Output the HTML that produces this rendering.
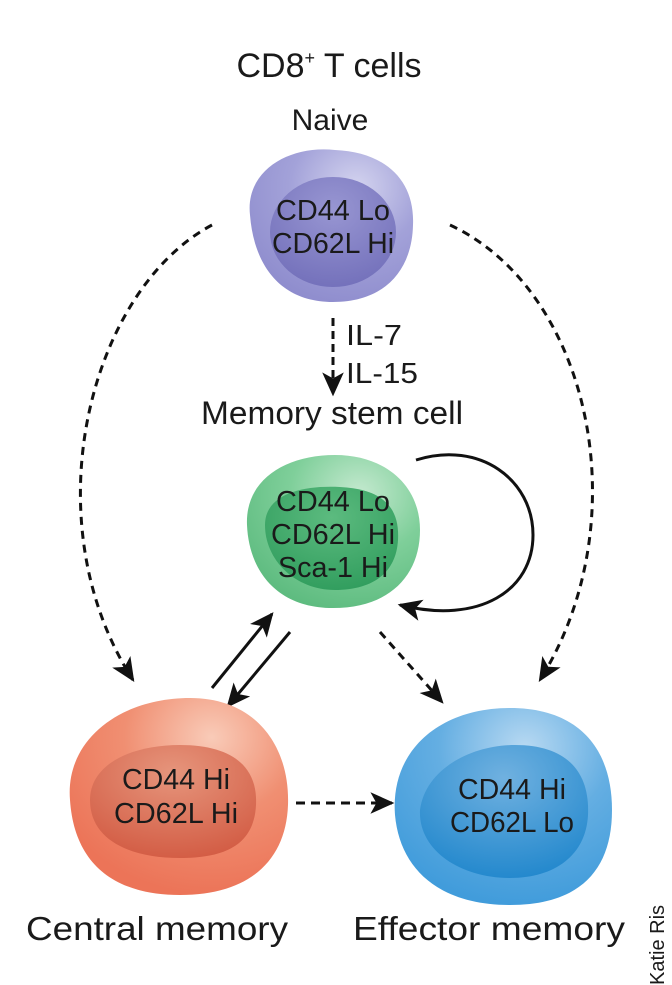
<!DOCTYPE html>
<html><head><meta charset="utf-8"><style>
html,body{margin:0;padding:0;background:#fff}
svg{display:block}
text{font-family:"Liberation Sans",sans-serif;fill:#1a1a1a}
</style></head><body>
<svg width="672" height="985" viewBox="0 0 672 985" xmlns="http://www.w3.org/2000/svg">
<defs>
<radialGradient id="nO" cx="0.65" cy="0.25" r="0.8"><stop offset="0" stop-color="#d4d4ef"/><stop offset="0.5" stop-color="#a3a2d9"/><stop offset="1" stop-color="#8e8ccd"/></radialGradient>
<radialGradient id="nI" cx="0.5" cy="0.3" r="0.8"><stop offset="0" stop-color="#9896d2"/><stop offset="1" stop-color="#6f6cb8"/></radialGradient>
<radialGradient id="gO" cx="0.65" cy="0.25" r="0.8"><stop offset="0" stop-color="#c4e9cf"/><stop offset="0.5" stop-color="#7fcf9a"/><stop offset="1" stop-color="#5dbb7f"/></radialGradient>
<radialGradient id="gI" cx="0.5" cy="0.3" r="0.8"><stop offset="0" stop-color="#5cbb7f"/><stop offset="1" stop-color="#2c9a5a"/></radialGradient>
<radialGradient id="rO" cx="0.65" cy="0.2" r="0.8"><stop offset="0" stop-color="#f9cbb8"/><stop offset="0.5" stop-color="#f08f72"/><stop offset="1" stop-color="#ec7458"/></radialGradient>
<radialGradient id="rI" cx="0.5" cy="0.25" r="0.8"><stop offset="0" stop-color="#e6957c"/><stop offset="1" stop-color="#d25a42"/></radialGradient>
<radialGradient id="bO" cx="0.6" cy="0.2" r="0.8"><stop offset="0" stop-color="#b8d9f2"/><stop offset="0.5" stop-color="#64aee2"/><stop offset="1" stop-color="#419cdb"/></radialGradient>
<radialGradient id="bI" cx="0.5" cy="0.25" r="0.8"><stop offset="0" stop-color="#70b1e0"/><stop offset="1" stop-color="#1f86cc"/></radialGradient>
<marker id="ah" viewBox="0 0 10 10" refX="9" refY="5" markerWidth="24" markerHeight="24" orient="auto" markerUnits="userSpaceOnUse"><path d="M0,0.5 L10,5 L0,9.5 L2.5,5 z" fill="#111"/></marker>
</defs>

<text x="329" y="77" font-size="34" text-anchor="middle">CD8<tspan font-size="18" dy="-13">+</tspan><tspan dy="13"> T cells</tspan></text>
<text x="330" y="130" font-size="30" text-anchor="middle">Naive</text>

<!-- Naive -->
<path d="M250,215 C245,170 290,145 335,150 C385,152 415,180 413,225 C412,270 385,302 333,302 C280,302 254,265 250,215 Z" fill="url(#nO)"/>
<ellipse cx="333" cy="232" rx="63" ry="55" fill="url(#nI)"/>
<text x="333" y="220" font-size="29" text-anchor="middle" textLength="114" lengthAdjust="spacingAndGlyphs">CD44 Lo</text>
<text x="333" y="253" font-size="29" text-anchor="middle" textLength="122" lengthAdjust="spacingAndGlyphs">CD62L Hi</text>

<!-- IL arrow -->
<line x1="333" y1="318" x2="333" y2="394" stroke="#111" stroke-width="3" stroke-dasharray="8,5" marker-end="url(#ah)"/>
<text x="346" y="345" font-size="29" textLength="56" lengthAdjust="spacingAndGlyphs">IL-7</text>
<text x="346" y="383" font-size="29" textLength="72" lengthAdjust="spacingAndGlyphs">IL-15</text>
<text x="332" y="424" font-size="32" text-anchor="middle" textLength="262" lengthAdjust="spacingAndGlyphs">Memory stem cell</text>

<!-- Green -->
<path d="M247,525 C245,480 285,455 335,455 C385,455 420,485 420,530 C420,575 390,608 333,608 C278,608 249,572 247,525 Z" fill="url(#gO)"/>
<path d="M265,525 C265,495 300,485 340,487 C380,489 400,505 398,540 C396,575 370,590 335,590 C295,590 265,560 265,525 Z" fill="url(#gI)"/>
<text x="333" y="511" font-size="29" text-anchor="middle" textLength="114" lengthAdjust="spacingAndGlyphs">CD44 Lo</text>
<text x="333" y="544" font-size="29" text-anchor="middle" textLength="124" lengthAdjust="spacingAndGlyphs">CD62L Hi</text>
<text x="333" y="577" font-size="29" text-anchor="middle" textLength="110" lengthAdjust="spacingAndGlyphs">Sca-1 Hi</text>

<!-- loop -->
<path d="M416,460 C480,440 533,480 533,535 C533,590 480,625 400,605" fill="none" stroke="#111" stroke-width="3" marker-end="url(#ah)"/>

<!-- big dashed curves -->
<path d="M212,225 C90,290 30,520 133,680" fill="none" stroke="#111" stroke-width="3" stroke-dasharray="8,6" marker-end="url(#ah)"/>
<path d="M450,225 C590,290 640,520 540,680" fill="none" stroke="#111" stroke-width="3" stroke-dasharray="8,6" marker-end="url(#ah)"/>

<!-- solid pair -->
<line x1="212" y1="688" x2="272" y2="614" stroke="#111" stroke-width="3" marker-end="url(#ah)"/>
<line x1="290" y1="632" x2="228" y2="706" stroke="#111" stroke-width="3" marker-end="url(#ah)"/>
<!-- green to blue -->
<line x1="380" y1="632" x2="442" y2="702" stroke="#111" stroke-width="3" stroke-dasharray="8,6" marker-end="url(#ah)"/>

<!-- Red -->
<path d="M70,800 C65,740 120,698 190,698 C255,698 290,745 288,805 C286,860 250,895 180,895 C110,895 74,860 70,800 Z" fill="url(#rO)"/>
<path d="M90,800 C90,765 130,745 180,745 C230,745 258,765 256,805 C254,845 225,858 180,858 C130,858 90,840 90,800 Z" fill="url(#rI)"/>
<text x="176" y="789" font-size="29" text-anchor="middle" textLength="108" lengthAdjust="spacingAndGlyphs">CD44 Hi</text>
<text x="176" y="823" font-size="29" text-anchor="middle" textLength="124" lengthAdjust="spacingAndGlyphs">CD62L Hi</text>

<line x1="296" y1="803" x2="392" y2="803" stroke="#111" stroke-width="3" stroke-dasharray="9,6" marker-end="url(#ah)"/>

<!-- Blue -->
<path d="M395,815 C390,750 440,708 510,708 C580,708 612,750 612,810 C612,870 580,905 510,905 C440,905 400,870 395,815 Z" fill="url(#bO)"/>
<path d="M420,810 C425,770 470,745 515,745 C565,745 590,770 588,815 C586,855 555,878 510,878 C460,878 418,850 420,810 Z" fill="url(#bI)"/>
<text x="512" y="799" font-size="29" text-anchor="middle" textLength="108" lengthAdjust="spacingAndGlyphs">CD44 Hi</text>
<text x="512" y="832" font-size="29" text-anchor="middle" textLength="124" lengthAdjust="spacingAndGlyphs">CD62L Lo</text>

<text x="157" y="940" font-size="33" text-anchor="middle" textLength="262" lengthAdjust="spacingAndGlyphs">Central memory</text>
<text x="489" y="940" font-size="33" text-anchor="middle" textLength="272" lengthAdjust="spacingAndGlyphs">Effector memory</text>
<text transform="translate(664,985) rotate(-90)" font-size="20" fill="#333">Katie Ris</text>
</svg>
</body></html>
